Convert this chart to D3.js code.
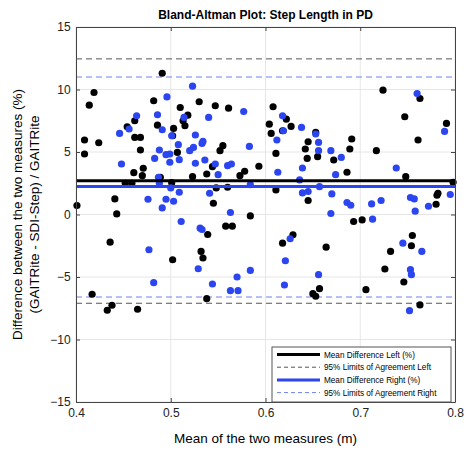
<!DOCTYPE html>
<html><head><meta charset="utf-8">
<script src="https://cdn.jsdelivr.net/npm/d3@7.9.0/dist/d3.min.js"></script>
<style>body{margin:0;background:#fff}text{font-family:Arial,"Liberation Sans",sans-serif}</style>
</head><body><svg width="474" height="457"></svg>
<script>
// [mean (m), difference (%)]
const leftPts = [[0.409,4.84],[0.409,5.96],[0.414,8.75],[0.419,9.76],[0.424,5.74],[0.454,7.02],[0.462,7.5],[0.462,6.17],[0.468,6.17],[0.468,5.16],[0.471,3.7],[0.461,3.35],[0.47,3.11],[0.482,9.1],[0.486,7.15],[0.491,11.3],[0.503,6.89],[0.502,6.3],[0.507,4.97],[0.51,8.56],[0.513,7.5],[0.515,7.1],[0.518,7.95],[0.53,9.02],[0.547,8.7],[0.561,8.51],[0.523,3.03],[0.538,3.24],[0.544,3.83],[0.555,5.51],[0.552,5.11],[0.593,3.86],[0.573,3.11],[0.578,3.46],[0.489,2.98],
  [0.724,9.95],[0.763,9.28],[0.747,7.82],[0.761,5.96],[0.791,7.29],[0.608,8.62],[0.604,7.23],[0.622,7.63],[0.627,7.05],[0.606,6.49],[0.618,6.7],[0.653,6.57],[0.645,5.82],[0.642,5.24],[0.611,4.89],[0.644,4.49],[0.655,4.63],[0.672,4.36],[0.689,5.24],[0.691,6.04],[0.717,5.11],[0.686,3.38],[0.748,3.03],
  [0.401,0.72],[0.441,1.25],[0.443,0.05],[0.436,-2.21],[0.417,-6.38],[0.438,-7.26],[0.433,-7.66],[0.465,-7.58],[0.502,-3.62],[0.532,-2.95],[0.534,-3.48],[0.539,-1.6],[0.538,-6.73],[0.545,0.9],[0.548,2.13],[0.56,2.18],[0.558,-0.93],[0.565,-0.93],[0.584,-0.11],[0.452,2.5],[0.459,2.5],[0.501,2.55],
  [0.611,1.97],[0.645,1.12],[0.629,-1.62],[0.618,-2.29],[0.664,-2.61],[0.65,-6.33],[0.653,-6.54],[0.657,-5.93],[0.693,-0.56],[0.702,-0.43],[0.706,-6.01],[0.732,-2.95],[0.726,-4.36],[0.746,-5.4],[0.755,-1.68],[0.754,-2.5],[0.763,-7.23],[0.782,1.7],[0.781,1.54],[0.78,0.82],[0.798,2.58]];
const rightPts = [[0.446,6.49],[0.448,4.04],[0.456,6.84],[0.464,7.9],[0.486,7.98],[0.491,6.78],[0.496,9.41],[0.501,6.3],[0.483,4.49],[0.488,5.16],[0.495,4.79],[0.499,4.84],[0.499,4.18],[0.508,5.59],[0.509,4.39],[0.514,7.77],[0.52,5.11],[0.524,5.37],[0.523,10.27],[0.526,6.36],[0.526,4.1],[0.533,5.69],[0.534,5.85],[0.54,7.77],[0.536,4.36],[0.547,4.04],[0.55,3.19],[0.56,3.91],[0.564,4.04],[0.577,8.24],[0.583,5.45],[0.487,2.98],
  [0.76,9.68],[0.618,7.9],[0.638,6.97],[0.612,5.96],[0.619,6.7],[0.653,6.44],[0.656,5.77],[0.656,5.11],[0.669,5.11],[0.68,4.57],[0.639,3.72],[0.613,3.38],[0.636,2.77],[0.674,3.19],[0.738,3.72],[0.789,6.65],
  [0.476,1.22],[0.477,-2.82],[0.482,-5.45],[0.491,0.53],[0.495,1.22],[0.503,1.06],[0.5,2.13],[0.509,1.78],[0.511,-0.56],[0.529,-4.34],[0.531,-1.09],[0.533,-1.2],[0.541,1.7],[0.544,-5.56],[0.563,0.16],[0.563,-6.09],[0.571,-6.09],[0.57,-5.0],[0.584,-4.47],[0.584,2.39],[0.488,2.5],
  [0.639,1.73],[0.645,1.84],[0.67,1.65],[0.657,2.23],[0.669,0.08],[0.686,0.96],[0.69,0.74],[0.712,0.85],[0.722,1.12],[0.713,-0.37],[0.626,-1.94],[0.621,-3.7],[0.62,-5.64],[0.656,-4.81],[0.745,-2.29],[0.765,-2.95],[0.753,-4.41],[0.754,-4.81],[0.752,-7.69],[0.753,1.36],[0.757,1.25],[0.758,0.27],[0.772,0.66],[0.795,1.6]];
const meanLeft = 2.7, loaLeft = [12.45, -7.1];
const meanRight = 2.25, loaRight = [11.0, -6.6];
const xTicks = [0.4, 0.5, 0.6, 0.7, 0.8];
const yTicks = [-15, -10, -5, 0, 5, 10, 15];
const legendLabels = ["Mean Difference Left (%)", "95% Limits of Agreement Left", "Mean Difference Right (%)", "95% Limits of Agreement Right"];

const m = {l: 76, r: 19, t: 27, b: 55};
const W = 474, H = 457;
const svg = d3.select("svg");
const x = d3.scaleLinear().domain([0.4, 0.8]).range([m.l, W - m.r]);
const y = d3.scaleLinear().domain([-15, 15]).range([H - m.b, m.t]);
const blue = "#2b45f0", blueDash = "#7080f0";

// grid
svg.append("g").selectAll("line").data(xTicks).join("line")
  .attr("x1", d => x(d)).attr("x2", d => x(d)).attr("y1", m.t).attr("y2", H - m.b)
  .attr("stroke", "#e6e6e6");
svg.append("g").selectAll("line").data(yTicks).join("line")
  .attr("y1", d => y(d)).attr("y2", d => y(d)).attr("x1", m.l).attr("x2", W - m.r)
  .attr("stroke", "#e6e6e6");

// reference lines
function hline(v, col, w, dash) {
  svg.append("line").attr("x1", m.l).attr("x2", W - m.r).attr("y1", y(v)).attr("y2", y(v))
    .attr("stroke", col).attr("stroke-width", w).attr("stroke-dasharray", dash || null);
}
loaLeft.forEach(v => hline(v, "#555", 1, "6,4"));
loaRight.forEach(v => hline(v, blueDash, 1, "6,4"));

const dot = (data, col) => svg.append("g").selectAll("circle").data(data).join("circle")
  .attr("cx", d => x(d[0])).attr("cy", d => y(d[1])).attr("r", 3.6).attr("fill", col);
dot(leftPts, "#000");
dot(rightPts, blue);
hline(meanLeft, "#000", 3);
hline(meanRight, blue, 3);

// axes
const fmt = d3.format("");
const ax = svg.append("g").attr("transform", `translate(0,${H - m.b})`)
  .call(d3.axisBottom(x).tickValues(xTicks).tickSizeInner(-4).tickSizeOuter(0).tickFormat(d => d));
const ay = svg.append("g").attr("transform", `translate(${m.l},0)`)
  .call(d3.axisLeft(y).tickValues(yTicks).tickSizeInner(-4).tickSizeOuter(0));
svg.append("g").attr("transform", `translate(0,${m.t})`)
  .call(d3.axisTop(x).tickValues(xTicks).tickSizeInner(-4).tickSizeOuter(0).tickFormat(""));
svg.append("g").attr("transform", `translate(${W - m.r},0)`)
  .call(d3.axisRight(y).tickValues(yTicks).tickSizeInner(-4).tickSizeOuter(0).tickFormat(""));
svg.selectAll(".domain").attr("stroke", "#444");
svg.selectAll(".tick line").attr("stroke", "#444");
ax.selectAll("text").attr("font-size", 12).attr("fill", "#222").attr("dy", "1em");
ay.selectAll("text").attr("font-size", 12).attr("fill", "#222").attr("dx", "-0.2em");

svg.append("text").attr("x", (m.l + W - m.r) / 2).attr("y", 19).attr("text-anchor", "middle")
  .attr("font-size", 12).attr("font-weight", "bold").text("Bland-Altman Plot: Step Length in PD");
svg.append("text").attr("x", (m.l + W - m.r) / 2).attr("y", 443).attr("text-anchor", "middle")
  .attr("font-size", 13.5).text("Mean of the two measures (m)");
const yl = svg.append("text").attr("transform", `translate(22,${(m.t + H - m.b) / 2}) rotate(-90)`)
  .attr("text-anchor", "middle").attr("font-size", 13.5);
yl.append("tspan").attr("x", 0).attr("dy", 0).text("Difference between the two measures (%)");
yl.append("tspan").attr("x", 0).attr("dy", 17).text("(GAITRite - SDI-Step) / GAITRite");

// legend
const lg = svg.append("g").attr("transform", "translate(272,347)");
lg.append("rect").attr("width", 179).attr("height", 55).attr("fill", "#fff").attr("stroke", "#555");
const styles = [["#000", 3, null], ["#555", 1, "4,3"], [blue, 3, null], [blueDash, 1, "4,3"]];
legendLabels.forEach((t, i) => {
  const yy = 7.5 + i * 12.7;
  lg.append("line").attr("x1", 5).attr("x2", 48).attr("y1", yy).attr("y2", yy)
    .attr("stroke", styles[i][0]).attr("stroke-width", styles[i][1]).attr("stroke-dasharray", styles[i][2]);
  lg.append("text").attr("x", 52).attr("y", yy + 3).attr("font-size", 8.2).text(t);
});
</script></body></html>
